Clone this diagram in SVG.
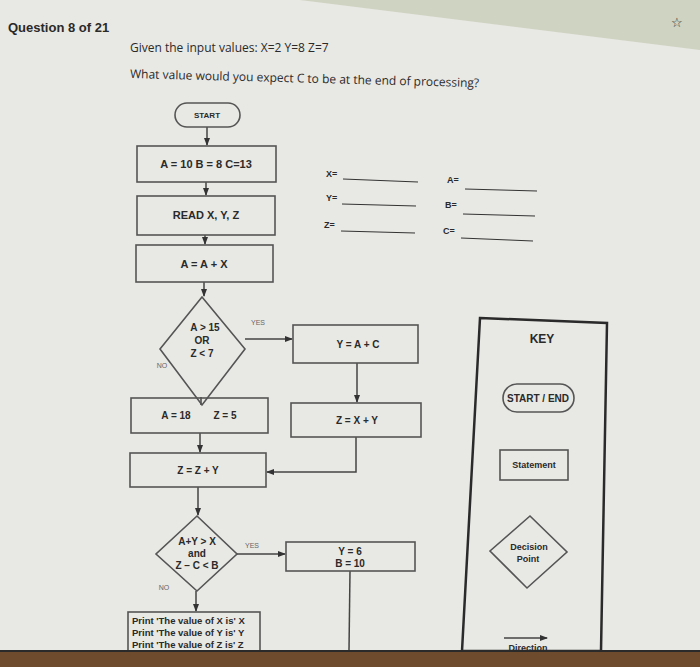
<svg xmlns="http://www.w3.org/2000/svg" width="700" height="667" viewBox="0 0 700 667" font-size="10">
<defs>
<marker id="ah" markerWidth="8" markerHeight="8" refX="7" refY="4" orient="auto" markerUnits="userSpaceOnUse"><path d="M0,1 L8,4 L0,7 z" fill="#333"/></marker>
</defs>
<style>
text{font-family:"Liberation Sans",Arial,sans-serif;fill:#2a2a2a}
.b{fill:none;stroke:#555;stroke-width:1.6}
.t{font-weight:bold;text-anchor:middle}
.s{fill:#666;font-weight:normal}
.c{stroke:#444;stroke-width:1.5;fill:none}
.ln{stroke:#333;stroke-width:1}
</style>
<rect width="700" height="667" fill="#e8e8e4"/>
<path d="M300,0 L700,50 L700,0 z" fill="#cfd3c2"/>
<text x="8" y="32" font-size="13" font-weight="bold">Question 8 of 21</text>
<text x="130" y="52" font-size="12" style="font-family:'Open Sans',sans-serif">Given the input values: X=2  Y=8  Z=7</text>
<text x="130" y="78" font-size="12" style="font-family:'Open Sans',sans-serif" transform="rotate(1.5 130 78)">What value would you expect C to be at the end of processing?</text>
<text x="677" y="27" font-size="13" text-anchor="middle">☆</text>

<g id="connectors">
<line class="c" x1="207" y1="127" x2="207" y2="145" marker-end="url(#ah)"/>
<line class="c" x1="206" y1="182" x2="206" y2="195" marker-end="url(#ah)"/>
<line class="c" x1="205" y1="235" x2="205" y2="244" marker-end="url(#ah)"/>
<line class="c" x1="204" y1="282" x2="204" y2="296" marker-end="url(#ah)"/>
<line class="c" x1="245" y1="339" x2="292" y2="339" marker-end="url(#ah)"/>
<line class="c" x1="201" y1="405" x2="201" y2="397"/>
<line class="c" x1="357" y1="363" x2="357" y2="402" marker-end="url(#ah)"/>
<line class="c" x1="200" y1="433" x2="200" y2="452" marker-end="url(#ah)"/>
<polyline class="c" points="356,437 356,472 267,472" marker-end="url(#ah)"/>
<line class="c" x1="198" y1="487" x2="198" y2="515" marker-end="url(#ah)"/>
<line class="c" x1="237" y1="554" x2="285" y2="554" marker-end="url(#ah)"/>
<line class="c" x1="196" y1="591" x2="196" y2="611" marker-end="url(#ah)"/>
<line class="c" x1="350" y1="571" x2="349" y2="650"/>
</g>

<g id="start"><rect class="b" x="175" y="103" width="65" height="24" rx="12"/><text class="t" x="207" y="118" font-size="8">START</text></g>
<g id="init"><rect class="b" x="137" y="146" width="139" height="36"/><text class="t" x="206" y="168" font-size="11">A = 10  B = 8  C=13</text></g>
<g id="read"><rect class="b" x="137" y="196" width="138" height="39"/><text class="t" x="206" y="219" font-size="11">READ X, Y, Z</text></g>
<g id="aax"><rect class="b" x="136" y="245" width="137" height="37"/><text class="t" x="204" y="268" font-size="11">A = A + X</text></g>
<g id="d1"><polygon class="b" points="202,297 245,349 202,405 160,349"/>
<text class="t" x="205" y="331" font-size="10">A  &gt; 15</text><text class="t" x="202" y="344" font-size="10">OR</text><text class="t" x="202" y="357" font-size="10">Z &lt; 7</text>
<text class="t s" x="258" y="325" font-size="7">YES</text><text class="t s" x="162" y="368" font-size="7">NO</text></g>
<g id="yac"><rect class="b" x="293" y="325" width="125" height="38"/><text class="t" x="358" y="348" font-size="10">Y = A + C</text></g>
<g id="a18"><rect class="b" x="131" y="398" width="137" height="35"/><text class="t" x="176" y="419" font-size="10">A = 18</text><text class="t" x="225" y="419" font-size="10">Z = 5</text></g>
<g id="zxy"><rect class="b" x="291" y="403" width="130" height="34"/><text class="t" x="357" y="424" font-size="10">Z = X + Y</text></g>
<g id="zzy"><rect class="b" x="130" y="453" width="136" height="34"/><text class="t" x="198" y="474" font-size="10">Z = Z + Y</text></g>
<g id="d2"><polygon class="b" points="197,516 237,554 197,591 156,554"/>
<text class="t" x="197" y="545" font-size="10">A+Y &gt; X</text><text class="t" x="197" y="557" font-size="10">and</text><text class="t" x="197" y="569" font-size="10">Z – C &lt; B</text>
<text class="t s" x="252" y="548" font-size="7">YES</text><text class="t s" x="164" y="590" font-size="7">NO</text></g>
<g id="y6"><rect class="b" x="286" y="542" width="129" height="29"/><text class="t" x="350" y="555" font-size="10">Y = 6</text><text class="t" x="350" y="567" font-size="10">B = 10</text></g>
<g id="print"><rect class="b" x="128" y="612" width="132" height="40"/>
<text x="132" y="624" font-size="9.5" font-weight="bold">Print 'The value of X is' X</text>
<text x="132" y="636" font-size="9.5" font-weight="bold">Print 'The value of Y is' Y</text>
<text x="132" y="648" font-size="9.5" font-weight="bold">Print 'The value of Z is' Z</text></g>

<g id="answers">
<text x="326" y="177" font-size="9" font-weight="bold">X=</text><line class="ln" x1="343" y1="179" x2="418" y2="182"/>
<text x="326" y="201" font-size="9" font-weight="bold">Y=</text><line class="ln" x1="342" y1="204" x2="416" y2="206"/>
<text x="324" y="228" font-size="9" font-weight="bold">Z=</text><line class="ln" x1="341" y1="231" x2="415" y2="233"/>
<text x="447" y="183" font-size="9" font-weight="bold">A=</text><line class="ln" x1="465" y1="189" x2="537" y2="191"/>
<text x="445" y="208" font-size="9" font-weight="bold">B=</text><line class="ln" x1="463" y1="214" x2="535" y2="216"/>
<text x="443" y="234" font-size="9" font-weight="bold">C=</text><line class="ln" x1="461" y1="238" x2="533" y2="241"/>
</g>

<g id="key">
<polygon points="480,318 607,323 601,651 462,651" fill="none" stroke="#2a2a2a" stroke-width="2.5"/>
<text class="t" x="542" y="343" font-size="12">KEY</text>
<rect class="b" x="503" y="384" width="71" height="28" rx="14"/><text class="t" x="538" y="402" font-size="10">START / END</text>
<rect class="b" x="500" y="450" width="68" height="30"/><text class="t" x="534" y="468" font-size="9">Statement</text>
<polygon class="b" points="530,516 567,552 527,588 490,551"/>
<text class="t" x="529" y="550" font-size="9">Decision</text><text class="t" x="528" y="562" font-size="9">Point</text>
<line class="c" x1="504" y1="638" x2="547" y2="638" stroke-width="1" marker-end="url(#ah)"/>
<text class="t" x="528" y="651" font-size="9">Direction</text>
</g>
<line x1="0" y1="651" x2="700" y2="651" stroke="#2a2a2a" stroke-width="2"/>
<rect x="0" y="652" width="700" height="15" fill="#6e4b2c"/>
</svg>
